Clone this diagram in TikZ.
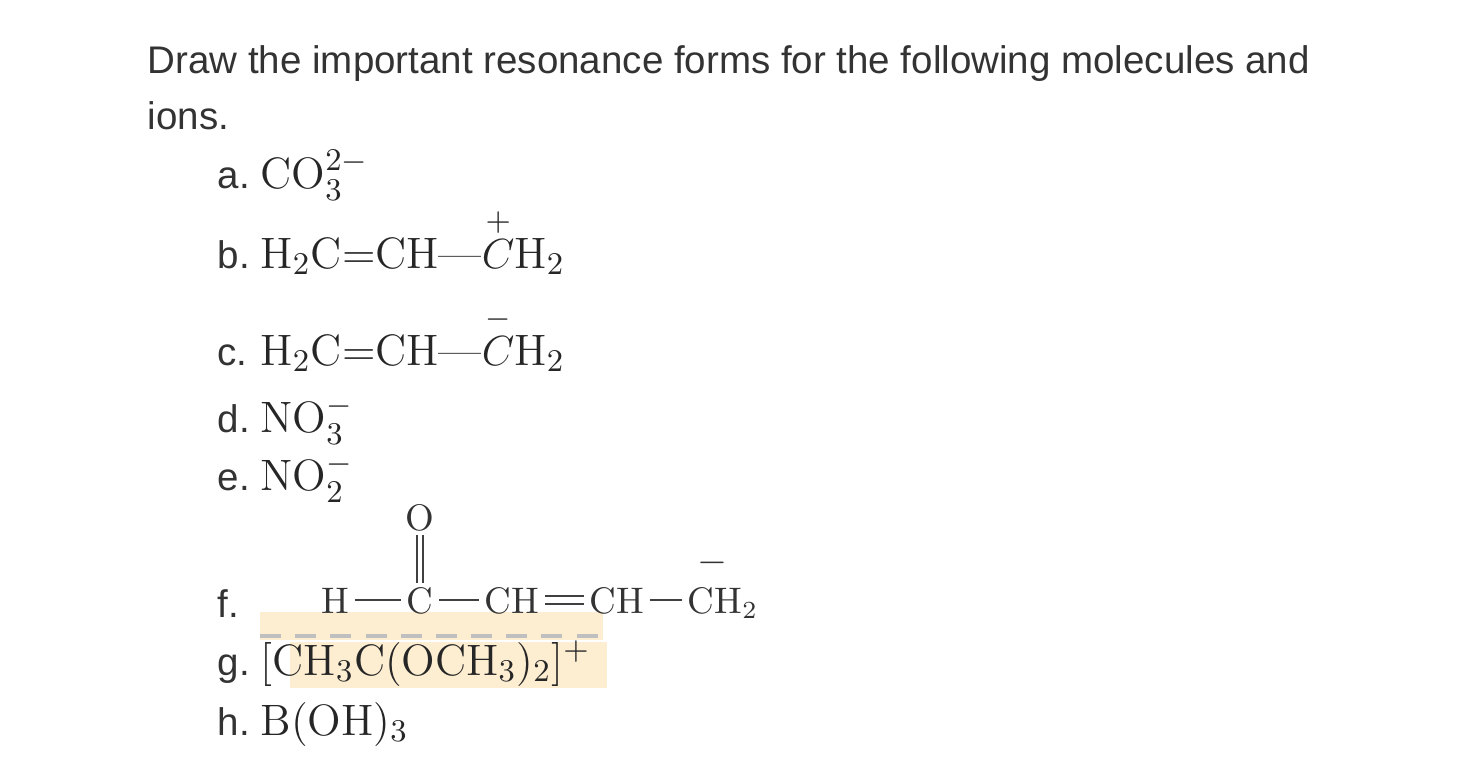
\documentclass[tikz,border=0pt]{standalone}
\usepackage{fontspec}
\newfontfamily\hv{Liberation Sans}
\usepackage{amsmath}
\definecolor{hl}{RGB}{253,238,210}
\begin{document}
\begin{tikzpicture}[x=0.01cm,y=-0.01cm,
  hd/.style={anchor=base west,inner sep=0,font=\hv\fontsize{10.95}{14}\selectfont,text=black!80},
  it/.style={anchor=base west,inner sep=0,font=\fontsize{12.5}{15}\selectfont,text=black!85},
  fs/.style={inner sep=0pt,font=\fontsize{10.5}{13}\selectfont,text=black!80,anchor=base},
  bd/.style={draw=black!75,line width=0.5pt}]
\useasboundingbox (0,0) rectangle (1460,766);
\fill[hl] (260,612) rectangle (603,640);
\fill[hl] (290,642) rectangle (607,688);
\draw[black!25,line width=1pt,dash pattern=on 6pt off 4pt] (260,636) -- (600,636);
\node[hd] (h1) at (147,73) {Draw the important resonance forms for the following molecules and};
\node[hd] (h2) at (147,129) {ions.};
\node[hd] (la) at (217,188) {a.};
\node[it] (ta) at (260,188) {CO$_3^{2-}$};
\node[hd] (lb) at (217,268) {b.};
\node[it] (tb) at (260,268) {H$_2$C=CH---$\overset{+}{C}$H$_2$};
\node[hd] (lc) at (217,365) {c.};
\node[it] (tc) at (260,365) {H$_2$C=CH---$\overset{-}{C}$H$_2$};
\node[hd] (ld) at (217,432) {d.};
\node[it] (td) at (260,432) {NO$_3^-$};
\node[hd] (le) at (217,490) {e.};
\node[it] (te) at (260,490) {NO$_2^-$};
\node[hd] (lf) at (217,617) {f.};
\node[fs] (fH) at (335,613) {H};
\node[fs] (fC) at (420,613) {C};
\node[fs] (fO) at (420,530) {O};
\node[fs] (f1) at (512,613) {CH};
\node[fs] (f2) at (617,613) {CH};
\node[fs] (f3) at (723,613) {CH$_2$};
\node[fs] (fm) at (712,572) {$-$};
\draw[bd] ([xshift=1.5pt,yshift=3.7pt]fH.base east) -- ([xshift=-1.5pt,yshift=3.7pt]fC.base west);
\draw[bd] ([xshift=1.5pt,yshift=3.7pt]fC.base east) -- ([xshift=-1.5pt,yshift=3.7pt]f1.base west);
\draw[bd] ([xshift=1.5pt,yshift=2.6pt]f1.base east) -- ([xshift=-1.5pt,yshift=2.6pt]f2.base west);
\draw[bd] ([xshift=1.5pt,yshift=4.8pt]f1.base east) -- ([xshift=-1.5pt,yshift=4.8pt]f2.base west);
\draw[bd] ([xshift=1.5pt,yshift=3.7pt]f2.base east) -- ([xshift=-1.5pt,yshift=3.7pt]f3.base west);
\draw[bd] ([xshift=-0.8pt,yshift=-1pt]fO.south) -- ([xshift=-0.8pt,yshift=1pt]fC.north);
\draw[bd] ([xshift=0.8pt,yshift=-1pt]fO.south) -- ([xshift=0.8pt,yshift=1pt]fC.north);
\node[hd] (lg) at (217,675) {g.};
\node[it] (tg) at (260,675) {[CH$_3$C(OCH$_3$)$_2$]$^+$};
\node[hd] (lh) at (217,735) {h.};
\node[it] (th) at (260,735) {B(OH)$_3$};
\end{tikzpicture}
\end{document}
